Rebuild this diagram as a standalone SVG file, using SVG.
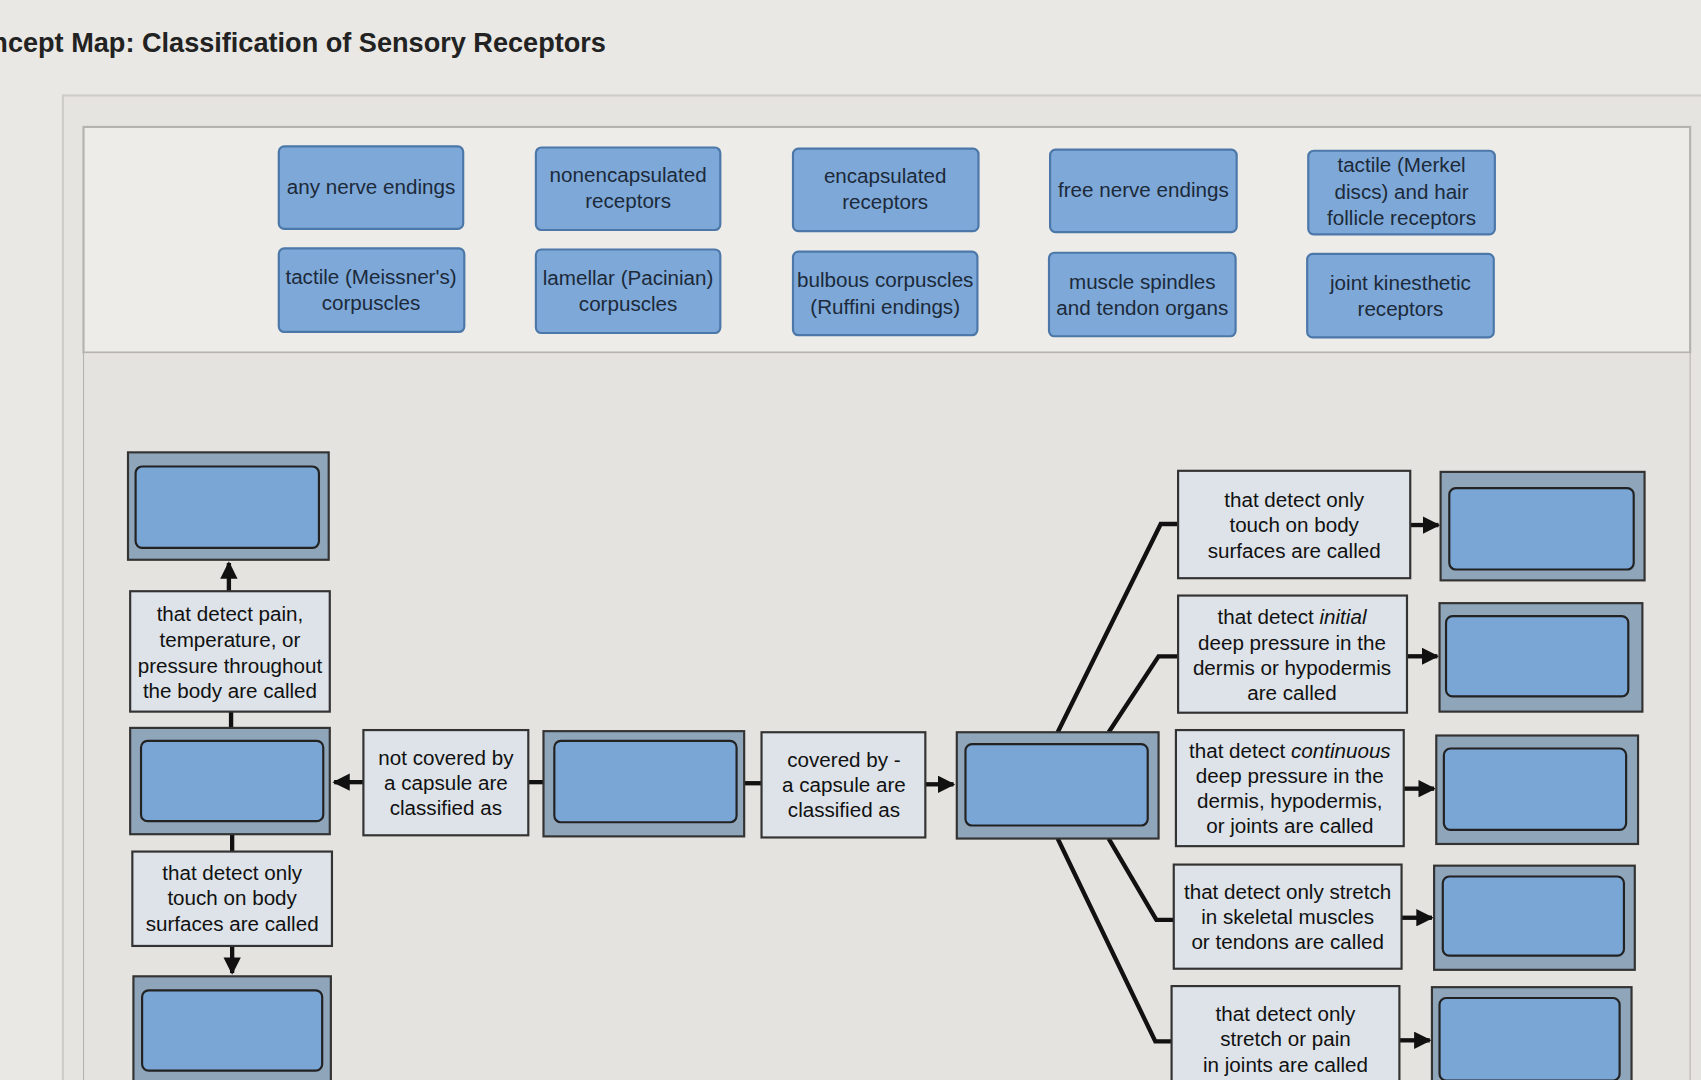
<svg xmlns="http://www.w3.org/2000/svg" width="1701" height="1080" viewBox="0 0 1701 1080">
<defs>
<style>
.t{font-family:"Liberation Sans",Arial,sans-serif;font-size:19px;text-anchor:middle}
.tile rect{fill:#7ea8d8;stroke:#4b77a9;stroke-width:2}
.tile text{fill:#1c2a3a}
.lbl rect{fill:#dde3e8;stroke:#333;stroke-width:2}
.lbl text{fill:#111}
.box .o{fill:#8fa5ba;stroke:#333;stroke-width:2}
.box .i{fill:#7aa6d6;stroke:#222;stroke-width:2}
.c{stroke:#111;stroke-width:4;fill:none}
</style>
<marker id="a" viewBox="0 0 10 10" refX="9" refY="5" markerWidth="4" markerHeight="4" orient="auto"><path d="M0,0L10,5L0,10z" fill="#111"/></marker>
</defs>
<rect width="1701" height="1080" fill="#e9e8e4"/>
<g transform="scale(1.0848)">
<text x="-8" y="48" style="font-family:'Liberation Sans',Arial,sans-serif;font-size:25px;font-weight:bold" fill="#222">ncept Map: Classification of Sensory Receptors</text>
<rect x="58" y="88" width="1520" height="920" fill="#e6e4e0" stroke="#cfcdc9" stroke-width="2"/>
<rect x="77" y="117" width="1481" height="208" fill="#eeece8" stroke="#b5b3af" stroke-width="2"/>
<rect x="77" y="325" width="1481" height="680" fill="#e5e3df" stroke="#b5b3af" stroke-width="1"/>

<g class="tile" id="tile1"><rect x="257" y="135" width="170" height="76" rx="5"/><text class="t" x="342" y="179">any nerve endings</text></g>
<g class="tile" id="tile2"><rect x="494" y="136" width="170" height="76" rx="5"/><text class="t" x="579" y="168">nonencapsulated</text><text class="t" x="579" y="192">receptors</text></g>
<g class="tile" id="tile3"><rect x="731" y="137" width="171" height="76" rx="5"/><text class="t" x="816" y="169">encapsulated</text><text class="t" x="816" y="193">receptors</text></g>
<g class="tile" id="tile4"><rect x="968" y="138" width="172" height="76" rx="5"/><text class="t" x="1054" y="182">free nerve endings</text></g>
<g class="tile" id="tile5"><rect x="1206" y="139" width="172" height="77" rx="5"/><text class="t" x="1292" y="159">tactile (Merkel</text><text class="t" x="1292" y="183">discs) and hair</text><text class="t" x="1292" y="207">follicle receptors</text></g>
<g class="tile" id="tile6"><rect x="257" y="229" width="171" height="77" rx="5"/><text class="t" x="342" y="262">tactile (Meissner's)</text><text class="t" x="342" y="286">corpuscles</text></g>
<g class="tile" id="tile7"><rect x="494" y="230" width="170" height="77" rx="5"/><text class="t" x="579" y="263">lamellar (Pacinian)</text><text class="t" x="579" y="287">corpuscles</text></g>
<g class="tile" id="tile8"><rect x="731" y="232" width="170" height="77" rx="5"/><text class="t" x="816" y="265">bulbous corpuscles</text><text class="t" x="816" y="289">(Ruffini endings)</text></g>
<g class="tile" id="tile9"><rect x="967" y="233" width="172" height="77" rx="5"/><text class="t" x="1053" y="266">muscle spindles</text><text class="t" x="1053" y="290">and tendon organs</text></g>
<g class="tile" id="tile10"><rect x="1205" y="234" width="172" height="77" rx="5"/><text class="t" x="1291" y="267">joint kinesthetic</text><text class="t" x="1291" y="291">receptors</text></g>

<g id="connectors">
<path class="c" d="M211,545V519" marker-end="url(#a)"/>
<path class="c" d="M213,656V671"/>
<path class="c" d="M214,769V785"/>
<path class="c" d="M214,872V897" marker-end="url(#a)"/>
<path class="c" d="M335,721H308" marker-end="url(#a)"/>
<path class="c" d="M487,721H501"/>
<path class="c" d="M686,722H702"/>
<path class="c" d="M853,723H879" marker-end="url(#a)"/>
<path class="c" d="M975,675L1070,483H1086"/>
<path class="c" d="M1022,675L1068,605H1086"/>
<path class="c" d="M1022,773L1066,848H1082"/>
<path class="c" d="M975,773L1065,960H1080"/>
<path class="c" d="M1300,484H1326" marker-end="url(#a)"/>
<path class="c" d="M1297,605H1325" marker-end="url(#a)"/>
<path class="c" d="M1294,727H1322" marker-end="url(#a)"/>
<path class="c" d="M1292,846H1320" marker-end="url(#a)"/>
<path class="c" d="M1290,959H1318" marker-end="url(#a)"/>
</g>

<g class="box" id="boxL1"><rect class="o" x="118" y="417" width="185" height="99"/><rect class="i" x="125" y="430" width="169" height="75" rx="6"/></g>
<g class="lbl" id="lblPain"><rect x="120" y="545" width="184" height="111"/><text class="t" x="212" y="572">that detect pain,</text><text class="t" x="212" y="596">temperature, or</text><text class="t" x="212" y="620">pressure throughout</text><text class="t" x="212" y="643">the body are called</text></g>
<g class="box" id="boxL2"><rect class="o" x="120" y="671" width="184" height="98"/><rect class="i" x="130" y="683" width="168" height="74" rx="6"/></g>
<g class="lbl" id="lblTouchL"><rect x="122" y="785" width="184" height="87"/><text class="t" x="214" y="811">that detect only</text><text class="t" x="214" y="834">touch on body</text><text class="t" x="214" y="858">surfaces are called</text></g>
<g class="box" id="boxL3"><rect class="o" x="123" y="900" width="182" height="100"/><rect class="i" x="131" y="913" width="166" height="74" rx="6"/></g>

<g class="lbl" id="lblNot"><rect x="335" y="673" width="152" height="97"/><text class="t" x="411" y="705">not covered by</text><text class="t" x="411" y="728">a capsule are</text><text class="t" x="411" y="751">classified as</text></g>
<g class="box" id="boxM1"><rect class="o" x="501" y="674" width="185" height="97"/><rect class="i" x="511" y="683" width="168" height="75" rx="6"/></g>
<g class="lbl" id="lblCov"><rect x="702" y="675" width="151" height="97"/><text class="t" x="778" y="707">covered by -</text><text class="t" x="778" y="730">a capsule are</text><text class="t" x="778" y="753">classified as</text></g>
<g class="box" id="boxM2"><rect class="o" x="882" y="675" width="186" height="98"/><rect class="i" x="890" y="686" width="168" height="75" rx="6"/></g>

<g class="lbl" id="lblR1"><rect x="1086" y="434" width="214" height="99"/><text class="t" x="1193" y="467">that detect only</text><text class="t" x="1193" y="490">touch on body</text><text class="t" x="1193" y="514">surfaces are called</text></g>
<g class="lbl" id="lblR2"><rect x="1086" y="549" width="211" height="108"/><text class="t" x="1191" y="575">that detect <tspan font-style="italic">initial</tspan></text><text class="t" x="1191" y="599">deep pressure in the</text><text class="t" x="1191" y="622">dermis or hypodermis</text><text class="t" x="1191" y="645">are called</text></g>
<g class="lbl" id="lblR3"><rect x="1084" y="673" width="210" height="107"/><text class="t" x="1189" y="699">that detect <tspan font-style="italic">continuous</tspan></text><text class="t" x="1189" y="722">deep pressure in the</text><text class="t" x="1189" y="745">dermis, hypodermis,</text><text class="t" x="1189" y="768">or joints are called</text></g>
<g class="lbl" id="lblR4"><rect x="1082" y="797" width="210" height="96"/><text class="t" x="1187" y="829">that detect only stretch</text><text class="t" x="1187" y="852">in skeletal muscles</text><text class="t" x="1187" y="875">or tendons are called</text></g>
<g class="lbl" id="lblR5"><rect x="1080" y="909" width="210" height="95"/><text class="t" x="1185" y="941">that detect only</text><text class="t" x="1185" y="964">stretch or pain</text><text class="t" x="1185" y="988">in joints are called</text></g>

<g class="box" id="boxR1"><rect class="o" x="1328" y="435" width="188" height="100"/><rect class="i" x="1336" y="450" width="170" height="75" rx="6"/></g>
<g class="box" id="boxR2"><rect class="o" x="1327" y="556" width="187" height="100"/><rect class="i" x="1333" y="568" width="168" height="74" rx="6"/></g>
<g class="box" id="boxR3"><rect class="o" x="1324" y="678" width="186" height="100"/><rect class="i" x="1331" y="690" width="168" height="75" rx="6"/></g>
<g class="box" id="boxR4"><rect class="o" x="1322" y="798" width="185" height="96"/><rect class="i" x="1330" y="808" width="167" height="73" rx="6"/></g>
<g class="box" id="boxR5"><rect class="o" x="1320" y="910" width="184" height="96"/><rect class="i" x="1327" y="920" width="166" height="76" rx="6"/></g>
</g>
</svg>
